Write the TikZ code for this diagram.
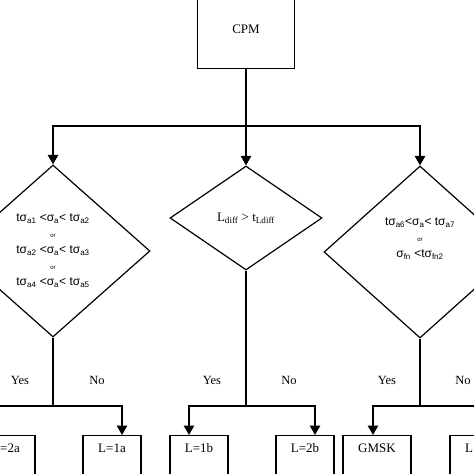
\documentclass[tikz,border=0pt]{standalone}
\usepackage{fontspec}
\setmainfont{Liberation Serif}
\newfontfamily\arialf{Liberation Sans}
\usetikzlibrary{calc,arrows.meta,positioning,shapes.geometric}
\newcommand{\orf}{\fontsize{6}{7}\selectfont}
\tikzset{
  ln/.style={line width=1.2pt,black},
  ar/.style={-{Triangle[length=9.5pt,width=10.5pt]},line width=1.2pt,black},
  box/.style={draw,line width=1.2pt,minimum width=58pt,anchor=north,text height=9.5pt,text depth=42pt,inner ysep=7pt,font=\fontsize{13}{15}\selectfont},
  dia/.style={draw,diamond,line width=1.2pt,inner sep=0pt,align=center,font=\arialf\fontsize{12}{16}\selectfont},
  yn/.style={font=\fontsize{12.5}{15}\selectfont}
}
\begin{document}
\begin{tikzpicture}[x=1pt,y=-1pt]
\useasboundingbox (0,0) rectangle (474,474);
\clip (0,0) rectangle (474,474);
\node[draw,line width=1.2pt,minimum width=97pt,minimum height=69pt,text height=9.3pt,text depth=9.3pt,font=\fontsize{13}{15}\selectfont] (cpm) at (246,33.7) {CPM};
\node[dia,minimum width=194pt,minimum height=172pt] (dA) at (53,251)
  {tσ\textsubscript{a1} <σ\textsubscript{a}< tσ\textsubscript{a2}\\{\orf or}\\tσ\textsubscript{a2} <σ\textsubscript{a}< tσ\textsubscript{a3}\\{\orf or}\\tσ\textsubscript{a4} <σ\textsubscript{a}< tσ\textsubscript{a5}};
\node[dia,minimum width=152pt,minimum height=104pt,font=\fontsize{13}{15}\selectfont] (dB) at (246,218)
  {L\textsubscript{diff} > t\textsubscript{Ldiff}};
\node[dia,minimum width=192pt,minimum height=172pt,text depth=29pt] (dC) at (420,252)
  {tσ\textsubscript{a6}<σ\textsubscript{a}< tσ\textsubscript{a7}\\{\orf or}\\σ\textsubscript{fn} <tσ\textsubscript{fn2}};
\coordinate (sp) at (246,126);
\draw[ln] (cpm.south) -- (sp);
\draw[ar] (sp) -| (dA.north);
\draw[ar] (sp) -- (dB.north);
\draw[ar] (sp) -| (dC.north);
\node[box] (b2a) at (6,435) {L=2a};
\node[box] (b1a) at (112,435) {L=1a};
\node[box] (b1b) at (199,435) {L=1b};
\node[box] (b2b) at (305,435) {L=2b};
\node[box,minimum width=68pt] (gm) at (377,435) {GMSK};
\node[box] (b3) at (479,435) {L\phantom{=1c}};
\coordinate (jA) at (53,406);
\coordinate (jB) at (246,406);
\coordinate (jC) at (420,406);
\draw[ln] (dA.south) -- (jA);
\draw[ln] (dB.south) -- (jB);
\draw[ln] (dC.south) -- (jC);
\draw[ar] (jA) -| ([xshift=-22pt]b2a.north);
\draw[ar] (jA) -| ([xshift=10pt]b1a.north);
\draw[ar] (jB) -| ([xshift=-10pt]b1b.north);
\draw[ar] (jB) -| ([xshift=10pt]b2b.north);
\draw[ar] (jC) -| ([xshift=-4pt]gm.north);
\draw[ar] (jC) -| ([xshift=10pt]b3.north);
\node[yn] (yA) at ($(jA)+(-33,-26)$) {Yes};
\node[yn] (nA) at ($(jA)+(44,-26)$) {No};
\node[yn] (yB) at ($(jB)+(-34,-26)$) {Yes};
\node[yn] (nB) at ($(jB)+(43,-26)$) {No};
\node[yn] (yC) at ($(jC)+(-33,-26)$) {Yes};
\node[yn] (nC) at ($(jC)+(43,-26)$) {No};
\end{tikzpicture}
\end{document}
